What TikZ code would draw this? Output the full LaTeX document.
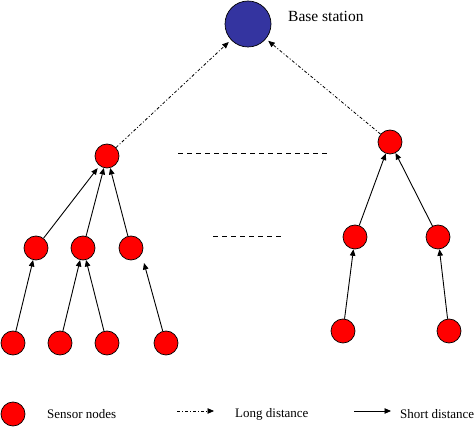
\documentclass[tikz,border=0pt]{standalone}
\usepackage{fontspec}
\setmainfont{Liberation Serif}
\usetikzlibrary{arrows.meta}
\definecolor{bsblue}{RGB}{52,52,160}
\tikzset{
  sensor/.style={circle,draw=black,line width=0.7pt,fill=red,minimum size=24pt,inner sep=0pt},
  basest/.style={circle,draw=black,line width=0.7pt,fill=bsblue,minimum size=46pt,inner sep=0pt},
  short/.style={-{Triangle[length=6.5pt,width=5.5pt]},line width=0.9pt},
  longd/.style={-{Triangle[length=6.5pt,width=5.5pt]},line width=0.8pt,dash pattern=on 3pt off 2pt on 1pt off 2pt},
  gap/.style={dashed,line width=1pt,dash pattern=on 5pt off 4pt},
  lbl/.style={font=\fontsize{13}{15}\selectfont,inner sep=0pt,anchor=west}
}
\begin{document}
\begin{tikzpicture}[x=1pt,y=-1pt]
\useasboundingbox (0,0) rectangle (474,427);
\node[basest] (bs) at (248,24) {};
\node[lbl,font=\fontsize{15.5}{17}\selectfont] (bslbl) at (288,16) {Base station};
% left tree
\node[sensor] (t1) at (107,156) {};
\node[sensor] (m1) at (36,248) {};
\node[sensor] (m2) at (83,248) {};
\node[sensor] (m3) at (131,248) {};
\node[sensor] (b1) at (13,343) {};
\node[sensor] (b2) at (60,343) {};
\node[sensor] (b3) at (107,343) {};
\node[sensor] (b4) at (166,343) {};
\coordinate (m3t) at (144,263);
% right tree
\node[sensor] (t2) at (390,142) {};
\node[sensor] (m4) at (355,237) {};
\node[sensor] (m5) at (438,237) {};
\node[sensor] (b5) at (343,331) {};
\node[sensor] (b6) at (449,331) {};
% arrows
\draw[longd,shorten >=3pt] (t1) -- (bs);
\draw[longd,shorten >=3pt] (t2) -- (bs);
\draw[short,shorten >=3pt] (m1) -- (t1);
\draw[short] (m2) -- (t1);
\draw[short] (m3) -- (t1);
\draw[short] (b1) -- (m1);
\draw[short] (b2) -- (m2);
\draw[short] (b3) -- (m2);
\draw[short] (b4) -- (m3t);
\draw[short] (m4) -- (t2);
\draw[short] (m5) -- (t2);
\draw[short] (b5) -- (m4);
\draw[short] (b6) -- (m5);
% gaps
\coordinate (g1a) at (178,154); \coordinate (g1b) at (330,154);
\coordinate (g2a) at (213,237); \coordinate (g2b) at (283,237);
\draw[gap] (g1a) -- (g1b);
\draw[gap] (g2a) -- (g2b);
% legend
\node[sensor] (leg) at (13,414) {};
\node[lbl] (legl) at (47,414) {Sensor nodes};
\coordinate (la) at (177,411); \coordinate (lb) at (214,411);
\draw[longd] (la) -- (lb);
\node[lbl] (longl) at (235,414) {Long distance};
\coordinate (sa) at (354,411); \coordinate (sb) at (391,411);
\draw[short] (sa) -- (sb);
\node[lbl] (shortl) at (400,414) {Short distance};
\end{tikzpicture}
\end{document}
